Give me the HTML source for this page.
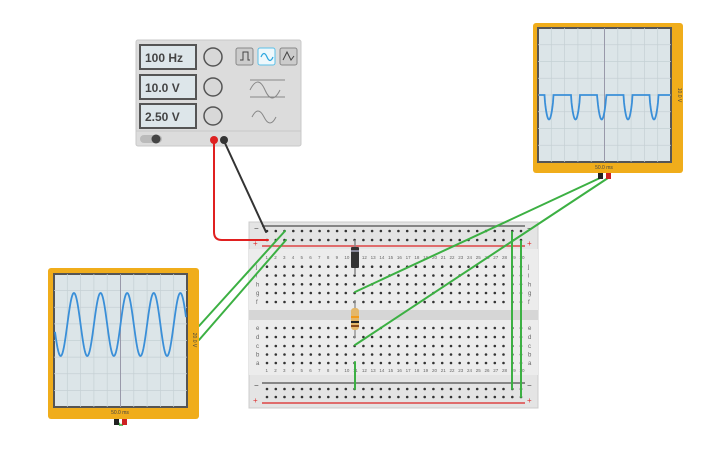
<!DOCTYPE html>
<html><head><meta charset="utf-8"><style>
html,body{margin:0;padding:0;background:#fff;width:725px;height:453px;overflow:hidden}
svg{display:block;font-family:"Liberation Sans",sans-serif}
</style></head><body>
<svg id="s" width="725" height="453" viewBox="0 0 725 453" xmlns="http://www.w3.org/2000/svg">
<!-- Function generator -->
<rect x="136" y="40" width="165" height="106" rx="2" fill="#dcdcdc" stroke="#c8c8c8"/>
<line x1="136" y1="131" x2="301" y2="131" stroke="#c8c8c8"/>
<g font-size="12" font-weight="bold" fill="#444">
<rect x="140" y="45" width="56" height="24" fill="#dde6ea" stroke="#555" stroke-width="2"/>
<text x="145" y="62">100 Hz</text>
<rect x="140" y="75" width="56" height="24" fill="#dde6ea" stroke="#555" stroke-width="2"/>
<text x="145" y="92">10.0 V</text>
<rect x="140" y="104" width="56" height="24" fill="#dde6ea" stroke="#555" stroke-width="2"/>
<text x="145" y="121">2.50 V</text>
</g>
<g fill="#d8d8d8" stroke="#555" stroke-width="1.5">
<circle cx="213" cy="57" r="9"/><circle cx="213" cy="87" r="9"/><circle cx="213" cy="116" r="9"/>
</g>
<rect x="236" y="48" width="17" height="17" rx="2" fill="#ccc" stroke="#888"/>
<rect x="258" y="48" width="17" height="17" rx="2" fill="#eef8fc" stroke="#5bc0e8"/>
<rect x="280" y="48" width="17" height="17" rx="2" fill="#ccc" stroke="#888"/>
<path d="M240 60 h3 v-8 h5 v8 h2" fill="none" stroke="#444"/>
<path d="M261 57 q3 -7 6 0 q3 7 6 0" fill="none" stroke="#2fa8e0" stroke-width="1.3"/>
<path d="M283 60 l4 -8 l4 8 l3 -4" fill="none" stroke="#444"/>
<path d="M250 90 q8 -16 15 0 q7 16 15 0" fill="none" stroke="#888"/>
<line x1="250" y1="80" x2="285" y2="80" stroke="#888"/><line x1="250" y1="97" x2="285" y2="97" stroke="#888"/>
<path d="M252 117 q6 -12 12 0 q6 12 12 0" fill="none" stroke="#888"/>
<rect x="140" y="135" width="22" height="8" rx="4" fill="#bbb"/><circle cx="156" cy="139" r="4.5" fill="#444"/>
<circle cx="214" cy="140" r="4" fill="#d22"/><circle cx="224" cy="140" r="4" fill="#333"/>
<!-- breadboard -->
<rect x="249" y="222" width="289" height="186" fill="#e4e4e4" stroke="#ccc"/>
<rect x="249" y="249" width="289" height="71" fill="#ececec"/>
<rect x="249" y="310" width="289" height="10" fill="#d6d6d6"/>
<rect x="249" y="320" width="289" height="55" fill="#ececec"/>
<line x1="262" y1="226" x2="525" y2="226" stroke="#666" stroke-width="1.5"/>
<line x1="262" y1="246" x2="525" y2="246" stroke="#d44" stroke-width="1.5"/>
<line x1="262" y1="383" x2="525" y2="383" stroke="#666" stroke-width="1.5"/>
<line x1="262" y1="403" x2="525" y2="403" stroke="#d44" stroke-width="1.5"/>
<g font-size="8" fill="#d33"><text x="253" y="246">+</text><text x="527" y="246">+</text><text x="253" y="403">+</text><text x="527" y="403">+</text></g>
<g font-size="8" fill="#444"><text x="254" y="231">−</text><text x="527" y="231">−</text><text x="254" y="388">−</text><text x="527" y="388">−</text></g>
<g id="holes" fill="#333"></g>
<g id="lbl" font-size="6" fill="#666"></g>
<!-- components -->
<line x1="355" y1="240" x2="355" y2="275" stroke="#888" stroke-width="1.5"/>
<rect x="351" y="247" width="8" height="21" rx="1" fill="#333"/>
<rect x="351" y="250" width="8" height="2" fill="#889"/>
<line x1="355" y1="300" x2="355" y2="338" stroke="#999" stroke-width="1.5"/>
<rect x="351" y="308" width="8" height="22" rx="3" fill="#e3b76a"/>
<rect x="351" y="316" width="8" height="2" fill="#f29b1a"/><rect x="351" y="321" width="8" height="2" fill="#222"/><rect x="351" y="325" width="8" height="2" fill="#8a4a1a"/>
<!-- wires -->
<g fill="none" stroke-linecap="round">
<path d="M214 141 V232 Q214 240 222 240 H268" stroke="#e02020" stroke-width="2"/>
<path d="M224 141 L266 232" stroke="#333" stroke-width="2"/>
<g stroke="#3cb043" stroke-width="2">
<path d="M285 231 L199 326"/><path d="M286 240 L199 340"/>
<path d="M355 292 L600 178"/><path d="M355 345 L608 178"/>
<path d="M512 232 V389"/><path d="M521 241 V397"/><path d="M355 362 V389"/>
<path d="M116 420 L120 425"/><path d="M126 420 L122 425"/>
</g></g>
<!-- scope right -->
<rect x="533" y="23" width="150" height="150" rx="3" fill="#f0ad1b"/>
<rect x="538" y="28" width="133" height="134" fill="#dce5e8" stroke="#555" stroke-width="2"/>
<g id="g1" stroke="#c5d0d4" stroke-width="0.7"></g>
<line x1="604.5" y1="28" x2="604.5" y2="162" stroke="#99a" />
<text x="604" y="169" font-size="5" text-anchor="middle" fill="#444">50.0 ms</text>
<text x="678" y="95" font-size="5" fill="#444" transform="rotate(90 678 95)" text-anchor="middle">10.0 V</text>
<path id="w1" fill="none" stroke="#3a8fd8" stroke-width="1.8"/>
<rect x="598" y="173" width="5" height="6" fill="#222"/><rect x="606" y="173" width="5" height="6" fill="#c22"/>
<!-- scope left -->
<rect x="48" y="268" width="151" height="151" rx="3" fill="#f0ad1b"/>
<rect x="54" y="274" width="133" height="133" fill="#dce5e8" stroke="#555" stroke-width="2"/>
<g id="g2" stroke="#c5d0d4" stroke-width="0.7"></g>
<line x1="120.5" y1="274" x2="120.5" y2="407" stroke="#99a"/>
<text x="120" y="414" font-size="5" text-anchor="middle" fill="#444">50.0 ms</text>
<text x="193" y="340" font-size="5" fill="#444" transform="rotate(90 193 340)" text-anchor="middle">20.0 V</text>
<path id="w2" fill="none" stroke="#3a8fd8" stroke-width="1.8"/>
<rect x="114" y="419" width="5" height="6" fill="#222"/><rect x="122" y="419" width="5" height="6" fill="#c22"/>
</svg>
<script>
var NS="http://www.w3.org/2000/svg";
function el(p,t,a,txt){var e=document.createElementNS(NS,t);for(var k in a)e.setAttribute(k,a[k]);if(txt!=null)e.textContent=txt;p.appendChild(e);return e;}
var H=document.getElementById('holes'),L=document.getElementById('lbl');
var xs=[];for(var i=0;i<30;i++)xs.push(267+8.76*i);
var rows=[266.7,275.5,284.3,293,302,328,337,346,354.5,363,231,240,389,397];
rows.forEach(function(y){xs.forEach(function(x){el(H,'circle',{cx:x.toFixed(1),cy:y,r:1.3});});});
var letters="jihgfedcba";
for(var r=0;r<10;r++){var y=rows[r]+2;el(L,'text',{x:256,y:y},letters[r]);el(L,'text',{x:528,y:y},letters[r]);}
xs.forEach(function(x,i){el(L,'text',{x:x-1.5,y:259,'font-size':4.5},String(i+1));el(L,'text',{x:x-1.5,y:372,'font-size':4.5},String(i+1));});
function grid(g,x0,y0,w,h){for(var i=1;i<10;i++){el(g,'line',{x1:x0+w*i/10,y1:y0,x2:x0+w*i/10,y2:y0+h});}for(var j=1;j<8;j++){el(g,'line',{x1:x0,y1:y0+h*j/8,x2:x0+w,y2:y0+h*j/8});}}
grid(document.getElementById('g1'),538,28,133,134);
grid(document.getElementById('g2'),54,274,133,133);
var d="";for(var x=55;x<=186;x+=0.5){var y=324.5+31.5*Math.sin(2*Math.PI*(x-54)/26.6);d+=(d?"L":"M")+x+" "+y.toFixed(2);}
document.getElementById('w2').setAttribute('d',d);
d="";var dips=[549,575.5,601.7,628,654];
for(var x=539;x<=670;x+=0.5){var y=95;dips.forEach(function(c){var t=Math.abs(x-c);if(t<4.5){y=Math.max(y,95+24.5*Math.pow(Math.cos(t/4.5*Math.PI/2),0.7));}});d+=(d?"L":"M")+x+" "+y.toFixed(2);}
document.getElementById('w1').setAttribute('d',d);
</script>
</body></html>
